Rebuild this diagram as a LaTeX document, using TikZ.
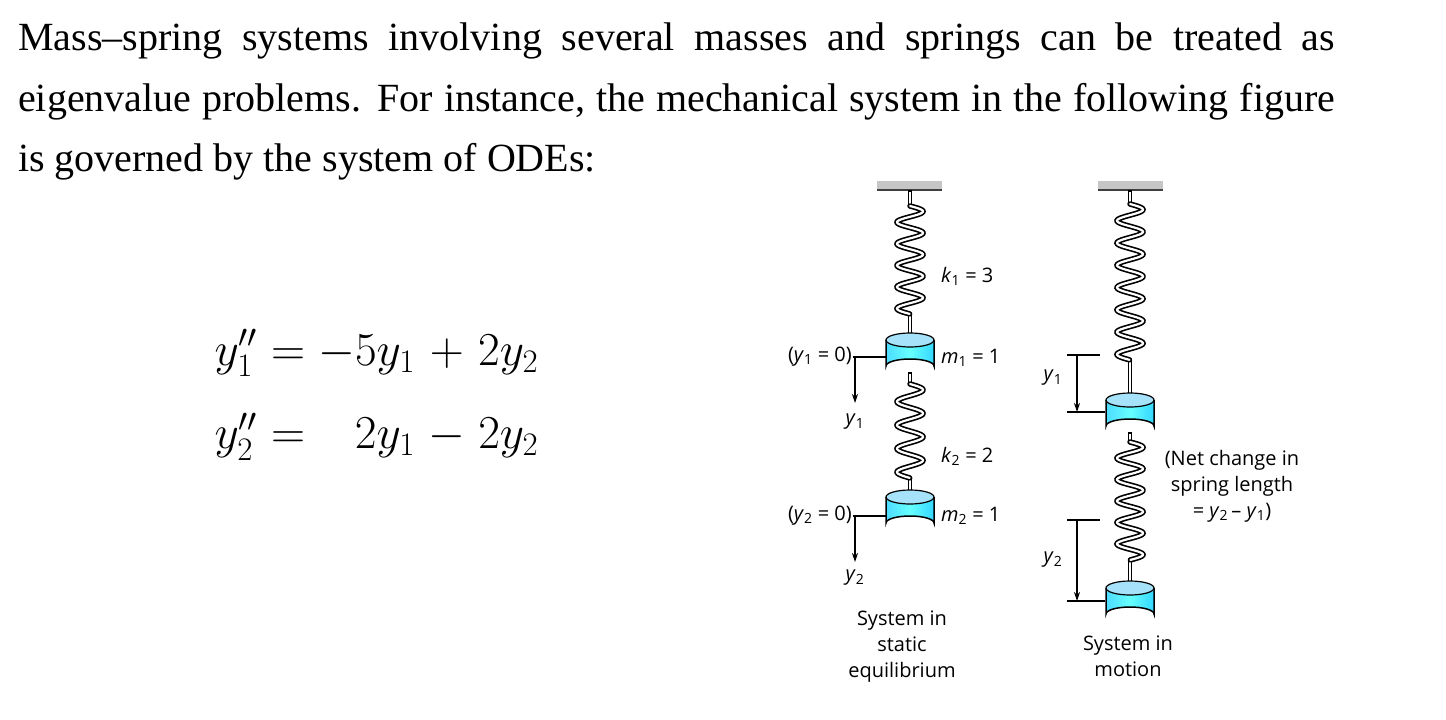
\documentclass[tikz,border=0pt]{standalone}
\usepackage{fontspec}
\setmainfont{Liberation Serif}
\newfontfamily\lab{Open Sans}
\usetikzlibrary{arrows.meta}
\tikzset{
  body/.style={font=\fontsize{40}{44}\selectfont, anchor=base west, inner sep=0},
  eq/.style={anchor=base west, inner sep=0},
  sm/.style={font=\lab\fontsize{20}{26}\selectfont, inner sep=1pt},
  coilb/.style={line width=5.5pt, black},
  coilw/.style={line width=2.2pt, white},
  rod/.style={line width=4.5pt, black},
  thin/.style={line width=1.1pt, black},
  arr/.style={thin, -{Stealth[length=9pt,width=6pt]}},
}
\newcommand{\iy}[1]{\textit{y}\textsubscript{#1}}
\newcommand{\massdraw}[2]{%
  \shade[left color=cyan!80!blue!70, right color=cyan!80!blue!80, middle color=white!40!cyan]
    (#1-24,#2) -- (#1-24,#2+26) arc[start angle=180,end angle=360,x radius=24,y radius=7] -- (#1+24,#2) -- cycle;
  \fill[cyan!35!white] (#1,#2) ellipse[x radius=24,y radius=7];
  \draw[line width=1.5pt] (#1-24,#2) -- (#1-24,#2+26) arc[start angle=180,end angle=360,x radius=24,y radius=7] -- (#1+24,#2);
  \draw[line width=1.2pt] (#1,#2) ellipse[x radius=24,y radius=7];}
% x, ytop, coil start, coil end, ybottom, turns
\newcommand{\spring}[6]{%
  \draw[rod] (#1,#2) -- (#1,#3);
  \draw[rod] (#1,#4) -- (#1,#5);
  \draw[line width=1.8pt, white] (#1,#2+2) -- (#1,#3);
  \draw[line width=1.8pt, white] (#1,#4) -- (#1,#5-2);
  \draw[coilb, line cap=round] plot[smooth, domain=0:1, samples=200] ({#1+13*sin(360*#6*\x)},{#3+(#4-#3)*\x});
  \draw[coilw, line cap=round] plot[smooth, domain=0:1, samples=200] ({#1+13*sin(360*#6*\x)},{#3+(#4-#3)*\x});}
\begin{document}
\begin{tikzpicture}[x=1pt,y=-1pt]
\useasboundingbox (0,0) rectangle (1446,720);
% text
\node[body] (l1) at (18,50) {\makebox[1317pt][s]{Mass–spring systems involving several masses and springs can be treated as}};
\node[body] (l2) at (18,111) {\makebox[1317pt][s]{eigenvalue problems. For instance, the mechanical system in the following figure}};
\node[body] (l3) at (18,171) {is governed by the system of ODEs:};
% equations
\node[eq] (e1) at (205,408) {\scalebox{1.9}{\fontsize{24}{28}\selectfont$\begin{array}{r@{\;}c@{\;}r@{\;}c@{\;}l}
y_1'' &=& -5y_1 &+& 2y_2\\[16pt]
y_2'' &=& 2y_1 &-& 2y_2\end{array}$}};
% ===== left system =====
\fill[gray!45] (877,181) rectangle (942,190);
\draw[line width=1.6pt, black!75] (877,190) -- (942,190);
\spring{910}{190}{206}{314}{340}{5}
\spring{910}{372}{384}{478}{497}{4}
\massdraw{910}{340}
\massdraw{910}{497}
\node[sm, anchor=west] (k1) at (940,276) {\textit{k}\textsubscript{1} = 3};
\node[sm, anchor=west] (m1) at (940,358) {\textit{m}\textsubscript{1} = 1};
\node[sm, anchor=west] (k2) at (940,456) {\textit{k}\textsubscript{2} = 2};
\node[sm, anchor=west] (m2) at (940,516) {\textit{m}\textsubscript{2} = 1};
\node[sm, anchor=east] (z1) at (853,357) {(\iy{1} = 0)};
\node[sm, anchor=east] (z2) at (853,516) {(\iy{2} = 0)};
\coordinate (a1) at (855,357); \coordinate (a1e) at (855,403);
\coordinate (a2) at (855,516); \coordinate (a2e) at (855,562);
\draw[thin] (z1.east) -- (886,357);
\draw[thin] (z2.east) -- (886,516);
\draw[arr] (a1) -- (a1e);
\draw[arr] (a2) -- (a2e);
\node[sm] (ly1) at (855,422) {\iy{1}};
\node[sm] (ly2) at (855,578) {\iy{2}};
\node[sm, align=center] (cap1) at (902,647) {System in\\static\\equilibrium};
% ===== right system =====
\fill[gray!45] (1098,181) rectangle (1163,190);
\draw[line width=1.6pt, black!75] (1098,190) -- (1163,190);
\spring{1130}{190}{204}{360}{400}{7}
\spring{1130}{432}{442}{560}{588}{5.5}
\massdraw{1130}{400}
\massdraw{1130}{588}
\draw[thin] (1067,355) -- (1100,355);
\draw[thin] (1067,412) -- (1105,412);
\draw[arr] (1077,355) -- (1077,412);
\node[sm] (ry1) at (1053,378) {\iy{1}};
\draw[thin] (1067,520) -- (1100,520);
\draw[thin] (1067,601) -- (1105,601);
\draw[arr] (1077,520) -- (1077,601);
\node[sm] (ry2) at (1053,560) {\iy{2}};
\node[sm, align=center] (net) at (1232,486) {(Net change in\\spring length\\= \iy{2}\,– \iy{1})};
\node[sm, align=center] (cap2) at (1128,656) {System in\\motion};
\end{tikzpicture}
\end{document}
